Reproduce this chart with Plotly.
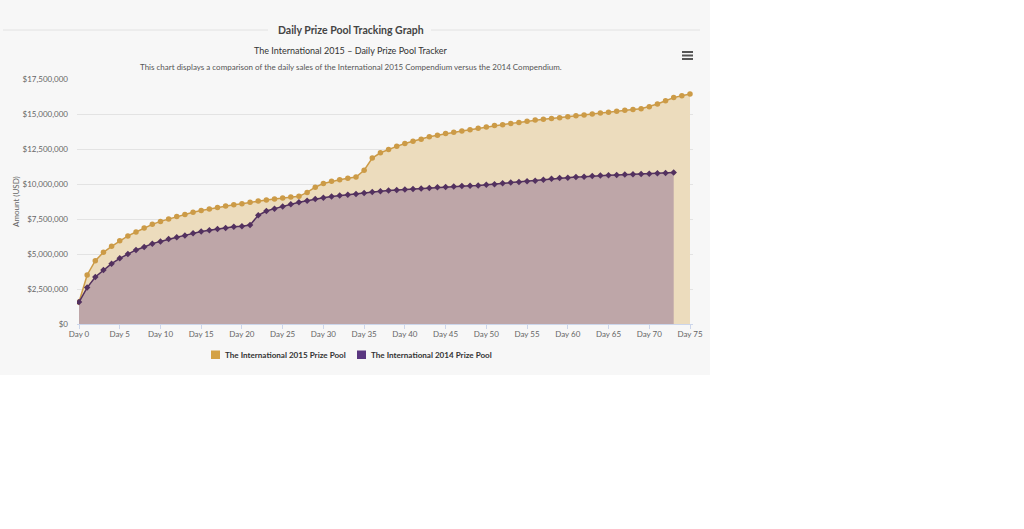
import plotly.graph_objects as go

# ---------------- data ----------------
days_2015 = list(range(0, 76))
prize_2015 = [
    1570000, 3500000, 4520000, 5120000, 5550000, 5950000, 6290000, 6570000, 6860000, 7120000,
    7330000, 7500000, 7670000, 7830000, 7980000, 8100000, 8210000, 8330000, 8430000, 8510000,
    8590000, 8690000, 8790000, 8860000, 8930000, 9000000, 9080000, 9120000, 9400000, 9770000,
    10040000, 10190000, 10310000, 10410000, 10500000, 10980000, 11850000, 12230000, 12470000, 12690000,
    12890000, 13060000, 13200000, 13370000, 13480000, 13600000, 13690000, 13790000, 13880000, 13980000,
    14070000, 14170000, 14240000, 14330000, 14400000, 14480000, 14570000, 14620000, 14670000, 14740000,
    14810000, 14880000, 14930000, 15000000, 15070000, 15120000, 15190000, 15260000, 15330000, 15380000,
    15520000, 15710000, 15950000, 16170000, 16310000, 16430000,
]
days_2014 = list(range(0, 74))
prize_2014 = [
    1570000, 2600000, 3360000, 3860000, 4310000, 4690000, 5000000, 5290000, 5500000, 5740000,
    5900000, 6070000, 6190000, 6330000, 6480000, 6600000, 6690000, 6790000, 6860000, 6940000,
    6990000, 7070000, 7760000, 8070000, 8240000, 8400000, 8550000, 8690000, 8810000, 8930000,
    9020000, 9100000, 9170000, 9240000, 9290000, 9360000, 9430000, 9480000, 9530000, 9570000,
    9600000, 9640000, 9670000, 9710000, 9760000, 9790000, 9830000, 9860000, 9880000, 9900000,
    9950000, 9980000, 10050000, 10100000, 10140000, 10190000, 10240000, 10310000, 10370000, 10430000,
    10450000, 10500000, 10520000, 10570000, 10600000, 10620000, 10640000, 10670000, 10690000, 10710000,
    10740000, 10760000, 10790000, 10830000,
]
x_tick_days = [0, 5, 10, 15, 20, 25, 30, 35, 40, 45, 50, 55, 60, 65, 70, 75]
x_tick_labels = ["Day %d" % d for d in x_tick_days]
y_tick_values = [0, 2500000, 5000000, 7500000, 10000000, 12500000, 15000000, 17500000]
y_tick_labels = ["$0", "$2,500,000", "$5,000,000", "$7,500,000", "$10,000,000",
                 "$12,500,000", "$15,000,000", "$17,500,000"]
name_2015 = "The International 2015 Prize Pool"
name_2014 = "The International 2014 Prize Pool"

# ---------------- layout geometry (pixels) ----------------
W_FIG, H_FIG = 1024, 529
L, R, T, B = 77, 693, 79, 324
PW, PH = R - L, B - T
PX_PER_DAY = (690 - 79) / 75.0
x_lo = 0 - (79 - L) / PX_PER_DAY
x_hi = 75 + (R - 690) / PX_PER_DAY


def px(xp):
    return (xp - L) / PW


def py(yp):
    return (B - yp) / PH


FONT = "Lato"
GOLD_LINE = "#cc9b47"
GOLD_FILL = "#ecdcbd"
PURPLE_LINE = "#53315f"
PURPLE_FILL = "#bea6a8"
GOLD_KEY = "#d4a245"
PURPLE_KEY = "#5a3780"

fig = go.Figure()
fig.add_trace(go.Scatter(
    x=days_2015, y=prize_2015, mode="lines+markers", fill="tozeroy",
    fillcolor=GOLD_FILL, line=dict(color=GOLD_LINE, width=1.5),
    marker=dict(symbol="circle", size=5.5, color=GOLD_LINE),
    showlegend=False, name=name_2015,
))
fig.add_trace(go.Scatter(
    x=days_2014, y=prize_2014, mode="lines+markers", fill="tozeroy",
    fillcolor=PURPLE_FILL, line=dict(color=PURPLE_LINE, width=1.5),
    marker=dict(symbol="diamond", size=5, color=PURPLE_LINE),
    showlegend=False, name=name_2014,
))

shapes = [
    # gray panel behind the chart
    dict(type="rect", xref="paper", yref="paper", x0=px(0), x1=px(710), y0=py(375), y1=py(0),
         fillcolor="#f7f7f7", line=dict(width=0), layer="below"),
    # header rule lines
    dict(type="line", xref="paper", yref="paper", x0=px(3), x1=px(268), y0=py(30), y1=py(30),
         line=dict(color="#e2e2e2", width=1)),
    dict(type="line", xref="paper", yref="paper", x0=px(431), x1=px(700), y0=py(30), y1=py(30),
         line=dict(color="#e2e2e2", width=1)),
    # legend swatches
    dict(type="rect", xref="paper", yref="paper", x0=px(211), x1=px(220), y0=py(359), y1=py(350.5),
         fillcolor=GOLD_KEY, line=dict(width=0)),
    dict(type="rect", xref="paper", yref="paper", x0=px(357), x1=px(366), y0=py(359), y1=py(350.5),
         fillcolor=PURPLE_KEY, line=dict(width=0)),
]
# hamburger icon
for yy in (52, 55.5, 59):
    shapes.append(dict(type="line", xref="paper", yref="paper", x0=px(682), x1=px(693),
                       y0=py(yy), y1=py(yy), line=dict(color="#555555", width=2)))

annotations = [
    dict(text="<b>Daily Prize Pool Tracking Graph</b>", x=px(351), y=py(30), xref="paper", yref="paper",
         showarrow=False, xanchor="center", yanchor="middle",
         font=dict(family=FONT, size=10.5, color="#444444")),
    dict(text="The International 2015 – Daily Prize Pool Tracker", x=px(351), y=py(51),
         xref="paper", yref="paper", showarrow=False, xanchor="center", yanchor="middle",
         font=dict(family=FONT, size=9, color="#333333")),
    dict(text="This chart displays a comparison of the daily sales of the International 2015 Compendium versus the 2014 Compendium.",
         x=px(351), y=py(67), xref="paper", yref="paper", showarrow=False,
         xanchor="center", yanchor="middle", font=dict(family=FONT, size=8, color="#555555")),
    dict(text="<b>" + name_2015 + "</b>", x=px(223), y=py(355), xref="paper", yref="paper",
         showarrow=False, xanchor="left", yanchor="middle",
         font=dict(family=FONT, size=8.1, color="#333333")),
    dict(text="<b>" + name_2014 + "</b>", x=px(369), y=py(355), xref="paper", yref="paper",
         showarrow=False, xanchor="left", yanchor="middle",
         font=dict(family=FONT, size=8.1, color="#333333")),
]

fig.update_layout(
    width=W_FIG, height=H_FIG,
    margin=dict(l=L, r=W_FIG - R, t=T, b=H_FIG - B, autoexpand=False),
    paper_bgcolor="white", plot_bgcolor="rgba(0,0,0,0)",
    shapes=shapes, annotations=annotations,
    font=dict(family=FONT, size=8, color="#666666"),
    showlegend=False,
    xaxis=dict(range=[x_lo, x_hi], tickvals=x_tick_days, ticktext=x_tick_labels,
               showgrid=False, zeroline=False, showline=True, linecolor="#ccd6eb", linewidth=1,
               ticks="outside", ticklen=4, tickcolor="#ccd6eb", ticklabelstandoff=-2,
               tickfont=dict(family=FONT, size=8, color="#666666")),
    yaxis=dict(range=[0, 17500000], tickvals=y_tick_values, ticktext=y_tick_labels,
               showgrid=True, gridcolor="#e3e3e3", gridwidth=1, zeroline=False, showline=False,
               ticks="", ticklabelstandoff=8,
               tickfont=dict(family=FONT, size=8, color="#666666")),
    hovermode=False,
)
fig.add_annotation(text="Amount (USD)", x=px(16), y=py(202), xref="paper", yref="paper",
                   showarrow=False, textangle=-90, xanchor="center", yanchor="middle",
                   font=dict(family=FONT, size=8, color="#666666"))

fig.write_html("out.html")
